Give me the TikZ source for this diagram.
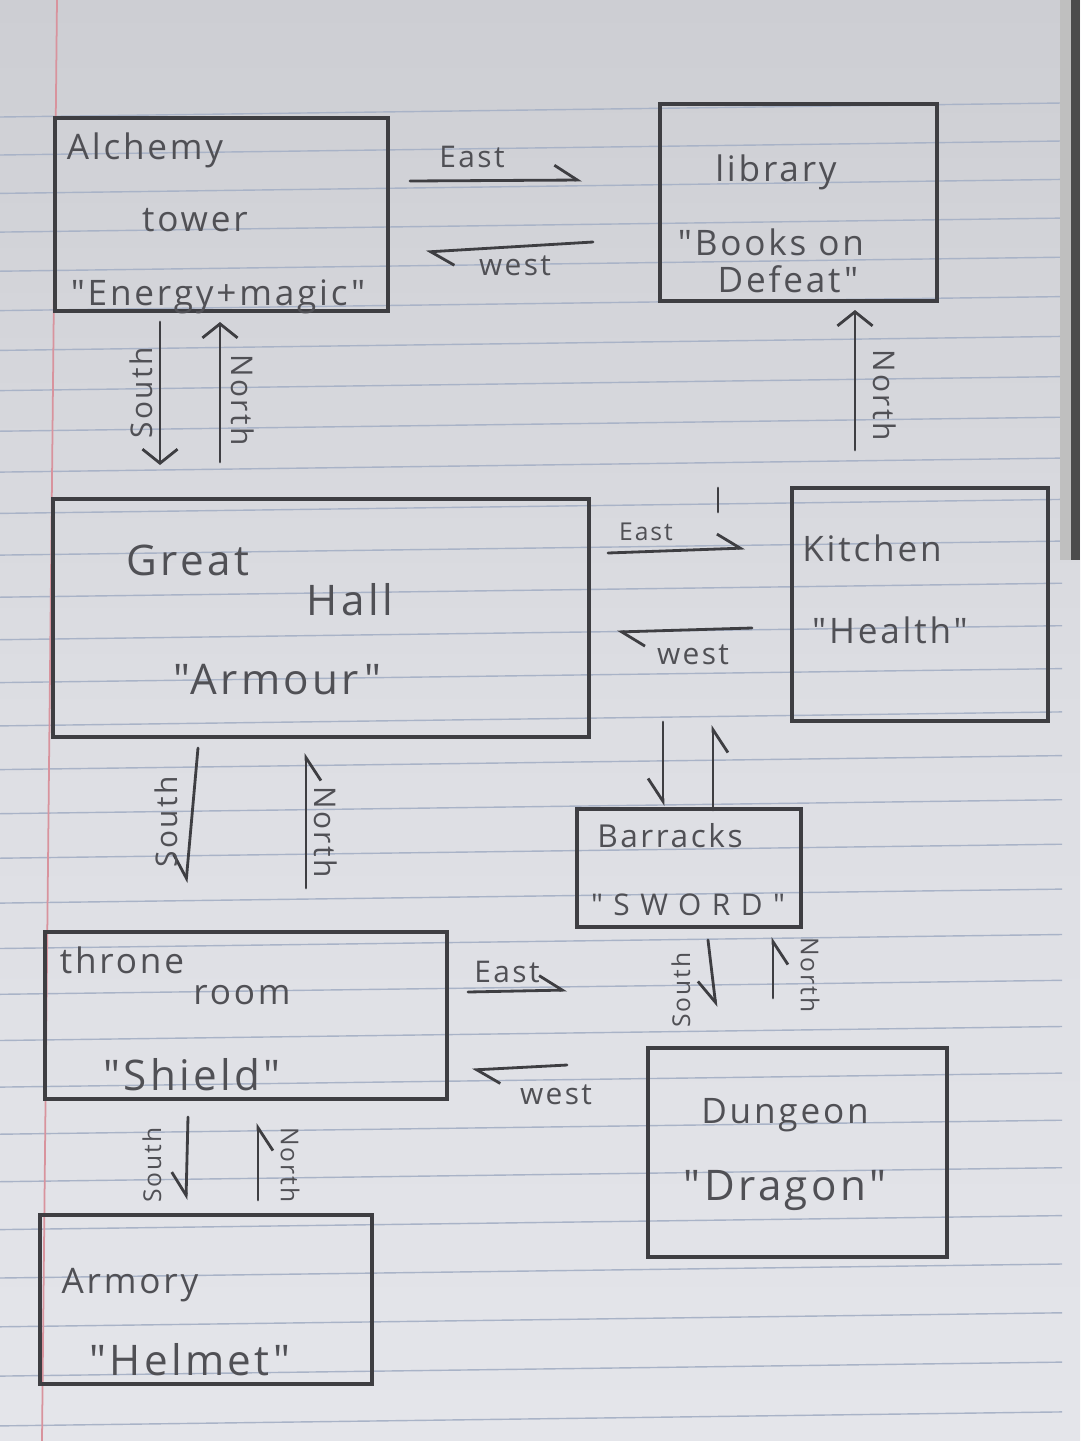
\documentclass[tikz,border=0pt]{standalone}
\usepackage{fontspec}
\setmainfont{Open Sans}[LetterSpace=8,Ligatures=TeXOff]
\usetikzlibrary{arrows.meta}
\definecolor{pencil}{HTML}{3E3E42}
\definecolor{graphite}{HTML}{505055}
\definecolor{rule}{HTML}{A9B3C7}
\definecolor{margin}{HTML}{D8939D}
\definecolor{papertop}{HTML}{CDCED3}
\definecolor{papermid}{HTML}{DDDEE3}
\definecolor{paperbot}{HTML}{E4E5EA}
\tikzset{
  room/.style={draw=pencil, line width=2.1pt, rectangle, inner sep=0pt},
  hand/.style={text=graphite, inner sep=0pt},
  big/.style={hand, font=\fontsize{24}{28}\selectfont},
  mid/.style={hand, font=\fontsize{20}{24}\selectfont},
  small/.style={hand, font=\fontsize{17}{20}\selectfont},
  tiny/.style={hand, font=\fontsize{14}{17}\selectfont},
  conn/.style={draw=pencil, line width=1.6pt, line cap=round},
  vhead/.style={conn, -{Straight Barb[length=8pt,width=20pt,line width=1.6pt]}},
  harp/.style={conn, -{Straight Barb[harpoon,length=13pt,width=17pt,line width=1.6pt]}},
  harpsw/.style={conn, -{Straight Barb[harpoon,swap,length=13pt,width=17pt,line width=1.6pt]}},
}
\begin{document}
\begin{tikzpicture}[x=0.02cm,y=-0.02cm]
\useasboundingbox (0,0) rectangle (1080,1441);
% paper
\shade[top color=papertop, bottom color=paperbot, middle color=papermid] (0,0) rectangle (1080,1441);
\foreach \yy in {117,155,193.4,232.1,271.2,310.6,350.4,390.6,431.2,472.1,513.4,555.1,597.2,639.7,682.6,725.9,769.6,813.7,858.2,903.1,948.5,994.3,1040.5,1087.1,1134.2,1181.7,1229.6,1278,1326.8,1376.1,1425.9}
  \draw[rule, line width=0.8pt] (0,\yy) -- (1062,\yy-14);
\draw[margin, line width=1pt] (57,0) -- (42,1441);
\fill[black!70] (1071,0) rectangle (1080,560);
\fill[black!25] (1060,0) rectangle (1071,560);

% rooms
\node[room, minimum width=6.66cm, minimum height=3.86cm] (alc) at (221.5,214.5) {};
\node[room, minimum width=5.54cm, minimum height=3.94cm] (lib) at (798.5,202.5) {};
\node[room, minimum width=10.72cm, minimum height=4.76cm] (gh) at (321,618) {};
\node[room, minimum width=5.12cm, minimum height=4.66cm] (kit) at (920,604.5) {};
\node[room, minimum width=4.48cm, minimum height=2.36cm] (bar) at (689,868) {};
\node[room, minimum width=8.04cm, minimum height=3.34cm] (thr) at (246,1015.5) {};
\node[room, minimum width=5.98cm, minimum height=4.18cm] (dun) at (797.5,1152.5) {};
\node[room, minimum width=6.64cm, minimum height=3.38cm] (arm) at (206,1299.5) {};

% room texts
\node[mid] (alcA) at (145,150) {Alchemy};
\node[mid] (alcB) at (195,220) {tower};
\node[mid] (alcC) at (218,297) {"Energy+magic"};
\node[mid] (libA) at (776,172) {library};
\node[mid] (libB) at (771,242) {"Books on};
\node[mid] (libC) at (788,279) {Defeat"};
\node[big] (ghA) at (188,560) {Great};
\node[big] (ghB) at (350,600) {Hall};
\node[big] (ghC) at (277,680) {"Armour"};
\node[mid] (kitA) at (872,548) {Kitchen};
\node[mid] (kitB) at (890,630) {"Health"};
\node[hand, font=\fontsize{18}{21}\selectfont] (barA) at (670,836) {Barracks};
\node[hand, font=\fontsize{17}{20}\selectfont\addfontfeatures{LetterSpace=35}] (barB) at (688,905) {"SWORD"};
\node[mid] (thrA) at (122,960) {throne};
\node[mid] (thrB) at (242,995) {room};
\node[big] (thrC) at (192,1075) {"Shield"};
\node[mid] (dunA) at (785,1115) {Dungeon};
\node[big] (dunB) at (785,1190) {"Dragon"};
\node[mid] (armA) at (130,1285) {Armory};
\node[big] (armB) at (190,1360) {"Helmet"};

% connector end points
\coordinate (e1a) at (410,181); \coordinate (e1b) at (582,180);
\coordinate (w1a) at (593,242); \coordinate (w1b) at (426,252);
\coordinate (s1a) at (160,322); \coordinate (s1b) at (160,465);
\coordinate (n1a) at (220,462); \coordinate (n1b) at (220,322);
\coordinate (n2a) at (855,450); \coordinate (n2b) at (855,310);
\coordinate (e2a) at (608,553); \coordinate (e2b) at (745,548);
\coordinate (w2a) at (752,628); \coordinate (w2b) at (617,632);
\coordinate (tk1) at (718,488); \coordinate (tk2) at (718,512);
\coordinate (d1a) at (663,722); \coordinate (d1b) at (663,806);
\coordinate (u1a) at (713,810); \coordinate (u1b) at (713,725);
\coordinate (s2a) at (198,748); \coordinate (s2b) at (186,883);
\coordinate (n3a) at (306,888); \coordinate (n3b) at (306,753);
\coordinate (s3a) at (708,940); \coordinate (s3b) at (716,1007);
\coordinate (n4a) at (773,998); \coordinate (n4b) at (773,937);
\coordinate (e3a) at (468,992); \coordinate (e3b) at (567,990);
\coordinate (w3a) at (567,1065); \coordinate (w3b) at (472,1070);
\coordinate (s4a) at (188,1117); \coordinate (s4b) at (186,1200);
\coordinate (n5a) at (258,1200); \coordinate (n5b) at (258,1123);

% connectors
\draw[harp] (e1a) -- (e1b);
\draw[harp] (w1a) -- (w1b);
\draw[vhead] (s1a) -- (s1b);
\draw[vhead] (n1a) -- (n1b);
\draw[vhead] (n2a) -- (n2b);
\draw[harp] (e2a) -- (e2b);
\draw[harp] (w2a) -- (w2b);
\draw[conn] (tk1) -- (tk2);
\draw[harpsw] (d1a) -- (d1b);
\draw[harpsw] (u1a) -- (u1b);
\draw[harpsw] (s2a) -- (s2b);
\draw[harpsw] (n3a) -- (n3b);
\draw[harpsw] (s3a) -- (s3b);
\draw[harpsw] (n4a) -- (n4b);
\draw[harp] (e3a) -- (e3b);
\draw[harp] (w3a) -- (w3b);
\draw[harpsw] (s4a) -- (s4b);
\draw[harpsw] (n5a) -- (n5b);

% connector labels
\node[small] (le1) at (472,157) {East};
\node[small] (lw1) at (515,266) {west};
\node[small, rotate=90] (ls1) at (141,393) {South};
\node[small, rotate=-90] (ln1) at (243,400) {North};
\node[small, rotate=-90] (ln2) at (885,395) {North};
\node[tiny] (le2) at (646,532) {East};
\node[small] (lw2) at (693,655) {west};
\node[small, rotate=90] (ls2) at (166,822) {South};
\node[small, rotate=-90] (ln3) at (326,832) {North};
\node[tiny, rotate=90] (ls3) at (681,990) {South};
\node[tiny, rotate=-90] (ln4) at (810,975) {North};
\node[small] (le3) at (507,972) {East};
\node[small] (lw3) at (556,1095) {west};
\node[tiny, rotate=90] (ls4) at (152,1165) {South};
\node[tiny, rotate=-90] (ln5) at (290,1165) {North};
\end{tikzpicture}
\end{document}
